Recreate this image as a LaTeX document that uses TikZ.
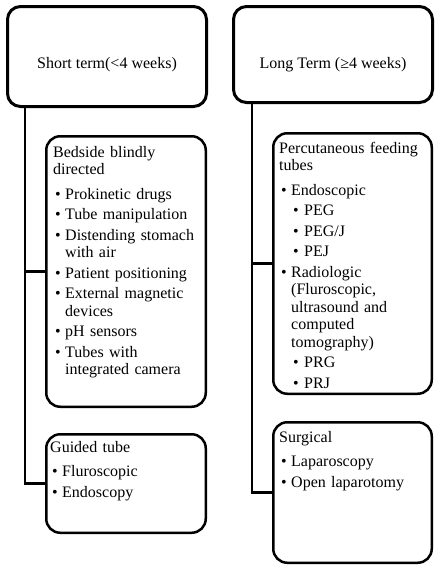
\documentclass[tikz,border=0pt]{standalone}
\usepackage{fontspec}
\setmainfont{Liberation Serif}
\newcommand{\dotlabel}[1]{#1\hfil}
\newenvironment{bulletlist}{\begin{list}{\textbullet}{\setlength{\leftmargin}{12pt}\setlength{\labelwidth}{10pt}%
    \setlength{\labelsep}{0pt}\setlength{\itemsep}{3pt}\setlength{\parsep}{0pt}%
    \setlength{\topsep}{7pt}\setlength{\partopsep}{0pt}\let\makelabel\dotlabel}}{\end{list}}
\newenvironment{subbulletlist}{\begin{list}{\textbullet}{\setlength{\leftmargin}{13pt}\setlength{\labelwidth}{11pt}%
    \setlength{\labelsep}{0pt}\setlength{\itemsep}{3pt}\setlength{\parsep}{0pt}%
    \setlength{\topsep}{3pt}\setlength{\partopsep}{0pt}\let\makelabel\dotlabel}}{\end{list}}
\begin{document}
\begin{tikzpicture}[
    x = 1pt, y = -1pt,
    font = \fontsize{16}{17.5}\selectfont,
    topbox/.style = {draw, line width = 3pt, rounded corners = 13pt, anchor = north west, inner sep = 0pt},
    subbox/.style = {draw, line width = 2.5pt, rounded corners = 14pt, anchor = north west, inner sep = 0pt},
    txt/.style = {anchor = north west, inner sep = 0pt, text width = 155pt, align = left},
    link/.style = {line width = 2.5pt}]

\useasboundingbox (0,0) rectangle (440,570);

\node[topbox, minimum width = 199pt, minimum height = 100pt] (short) at (6,5) {};
\node[topbox, minimum width = 199pt, minimum height = 96pt] (long) at (232,5) {};
\node[anchor = base] (shorttitle) at ([yshift = -11.5pt]short.center) {Short term(<4 weeks)};
\node[anchor = base] (longtitle) at ([yshift = -13.5pt]long.center) {Long Term (≥4 weeks)};

\node[subbox, minimum width = 159.5pt, minimum height = 270.5pt] (bed) at (45,135) {};
\node[subbox, minimum width = 159.5pt, minimum height = 98.5pt] (guide) at (45,433) {};
\node[subbox, minimum width = 158.5pt, minimum height = 260.5pt] (perc) at (272,132) {};
\node[subbox, minimum width = 158.5pt, minimum height = 140.5pt] (surg) at (272,421) {};

\node[txt] (bedtext) at ([shift = {(8,11)}]bed.north west) {%
    Bedside blindly\newline directed
    \begin{bulletlist}
    \item Prokinetic drugs
    \item Tube manipulation
    \item Distending stomach\newline with air
    \item Patient positioning
    \item External magnetic\newline devices
    \item pH sensors
    \item Tubes with\newline integrated camera
    \end{bulletlist}};
\node[txt] (guidetext) at ([shift = {(5,8)}]guide.north west) {%
    Guided tube
    \begin{bulletlist}
    \item Fluroscopic
    \item Endoscopy
    \end{bulletlist}};
\node[txt] (perctext) at ([shift = {(7,10)}]perc.north west) {%
    Percutaneous feeding\newline tubes
    \begin{bulletlist}
    \item Endoscopic
      \begin{subbulletlist}
      \item PEG
      \item PEG/J
      \item PEJ
      \end{subbulletlist}
    \item Radiologic\newline (Fluroscopic,\newline ultrasound and\newline computed\newline tomography)
      \begin{subbulletlist}
      \item PRG
      \item PRJ
      \end{subbulletlist}
    \end{bulletlist}};
\node[txt] (surgtext) at ([shift = {(7,10)}]surg.north west) {%
    Surgical
    \begin{bulletlist}
    \item Laparoscopy
    \item Open laparotomy
    \end{bulletlist}};

\coordinate (sdrop) at ([xshift = 19pt]short.south west);
\coordinate (ldrop) at ([xshift = 20pt]long.south west);
\draw[link] (sdrop) |- (bed.west);
\draw[link] (sdrop) |- (guide.west);
\draw[link] (ldrop) |- (perc.west);
\draw[link] (ldrop) |- (surg.west);
\end{tikzpicture}
\end{document}
